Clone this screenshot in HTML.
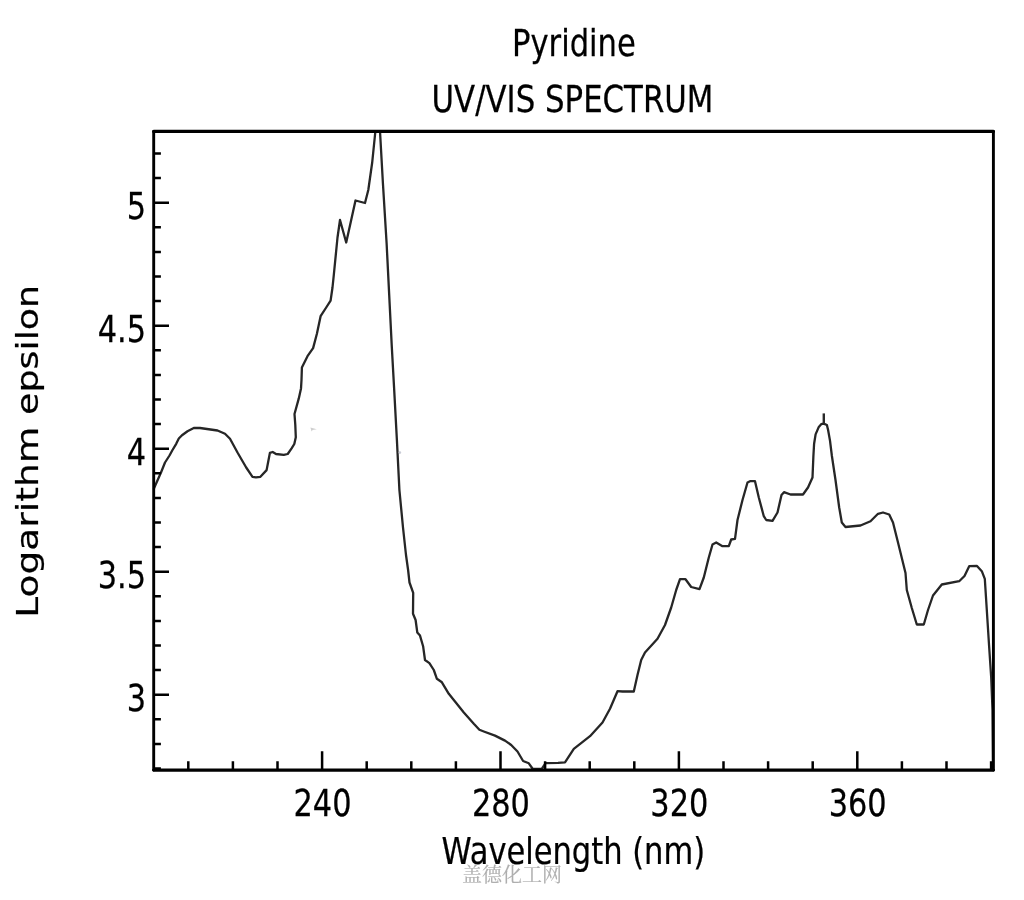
<!DOCTYPE html>
<html lang="en"><head><meta charset="utf-8"><title>Pyridine UV/VIS Spectrum</title>
<style>html,body{margin:0;padding:0;background:#fff}body{width:1024px;height:900px;overflow:hidden}svg{display:block}</style></head>
<body>
<svg width="1024" height="900" viewBox="0 0 1024 900">
<rect width="1024" height="900" fill="#fff"/>
<defs><clipPath id="c"><rect x="152.7" y="131.4" width="841.7" height="638.7"/></clipPath></defs>
<polyline clip-path="url(#c)" fill="none" stroke="#262626" stroke-width="2.3" stroke-linejoin="round" stroke-linecap="round" points="153.8,488.8 161.0,472.5 165.0,462.5 169.5,455.5 172.5,450.0 176.2,443.8 178.8,438.5 182.0,435.2 187.5,431.2 193.8,428.0 200.0,428.0 217.5,430.5 225.0,433.8 230.0,438.8 237.5,452.5 246.2,467.5 252.5,476.8 256.0,477.4 260.4,476.8 266.6,470.1 268.2,461.8 269.9,452.9 272.7,452.0 276.0,454.0 283.8,454.9 287.7,454.0 291.6,448.4 294.3,444.0 295.8,437.3 295.3,425.0 294.5,414.0 298.8,398.4 301.0,388.4 301.5,380.0 301.9,367.5 307.5,356.2 313.1,348.1 316.9,333.8 320.6,316.2 326.2,307.5 330.6,300.6 332.5,287.5 333.8,275.0 337.5,237.5 340.0,220.0 346.2,242.5 351.2,220.0 355.5,200.5 365.0,203.0 368.3,190.0 372.2,162.5 375.0,135.0 377.6,108.0 380.1,133.0 382.9,183.0 386.6,243.0 389.2,295.0 391.7,345.0 394.2,390.0 396.9,440.0 399.4,490.0 403.0,527.5 406.0,555.0 408.1,570.0 409.5,582.5 413.2,592.8 413.0,613.8 415.6,620.0 417.3,632.5 420.0,635.6 423.1,646.2 425.0,660.0 429.4,663.1 433.8,670.0 436.9,678.8 441.9,682.3 448.8,693.8 455.0,701.5 463.8,712.5 473.8,723.8 479.4,729.8 483.8,731.5 495.0,735.6 505.0,740.6 511.2,745.0 517.5,751.5 523.1,761.0 528.8,763.3 532.8,769.0 541.7,769.0 545.6,763.2 558.0,762.8 565.0,762.3 573.8,748.8 590.0,736.2 602.5,722.5 610.0,708.8 617.5,691.2 622.5,691.5 633.8,691.5 637.5,675.0 641.2,660.0 645.0,652.5 657.5,638.8 665.0,625.0 671.2,607.5 676.2,590.0 680.0,579.2 685.5,579.2 691.2,587.0 699.5,589.2 703.8,577.5 708.8,557.5 712.5,544.5 716.2,542.5 722.5,546.2 728.8,546.2 731.2,539.5 735.0,538.8 737.5,520.0 742.5,500.0 747.5,482.5 750.0,481.2 755.0,481.2 758.8,497.5 763.8,516.2 766.2,520.0 772.5,520.8 777.5,512.5 781.5,495.0 784.0,492.2 790.5,494.5 803.0,494.5 808.0,487.5 812.5,477.5 813.4,456.0 814.1,443.8 815.6,434.4 818.8,426.9 821.2,424.2 823.7,423.6 826.9,425.0 828.1,430.0 830.0,440.6 831.9,456.0 835.5,480.0 839.2,507.5 841.8,522.5 845.5,527.0 860.5,525.5 870.5,521.2 878.0,513.8 883.0,512.5 889.2,514.5 893.0,522.5 898.0,542.5 905.5,573.0 906.8,590.0 911.8,608.0 916.8,624.5 923.8,624.5 928.0,610.0 933.0,595.5 941.8,584.5 959.2,581.2 964.5,576.0 969.2,566.2 977.0,566.0 981.8,571.2 984.8,578.8 986.8,610.0 989.2,647.5 991.2,677.5 992.5,710.0 993.0,768.0"/>
<path d="M823.8 413.4V424.5" stroke="#2a2a2a" stroke-width="2.4" fill="none"/>
<path d="M310.4 427.6L316.8 429.2L312.6 430L311.6 431.4Z" fill="#cfcfcf"/><circle cx="399.9" cy="452.6" r="1.3" fill="#c9ccd6"/>
<path d="M153.7 131.4H993.4M153.7 770.1H993.4" stroke="#000" stroke-width="3.3" stroke-linecap="round" fill="none"/>
<path d="M153.7 131.4V770.1M993.4 131.4V770.1" stroke="#000" stroke-width="2.9" stroke-linecap="round" fill="none"/>
<path d="M153.7 768.5h7.2 M153.7 743.9h7.2 M153.7 719.3h7.2 M153.7 694.7h15.3 M153.7 670.1h7.2 M153.7 645.5h7.2 M153.7 620.9h7.2 M153.7 596.3h7.2 M153.7 571.7h15.3 M153.7 547.1h7.2 M153.7 522.5h7.2 M153.7 497.9h7.2 M153.7 473.3h7.2 M153.7 448.7h15.3 M153.7 424.1h7.2 M153.7 399.5h7.2 M153.7 374.9h7.2 M153.7 350.3h7.2 M153.7 325.7h15.3 M153.7 301.1h7.2 M153.7 276.5h7.2 M153.7 251.9h7.2 M153.7 227.3h7.2 M153.7 202.7h15.3 M153.7 178.1h7.2 M153.7 153.5h7.2 M188.3 770.1v-8.8 M232.9 770.1v-8.8 M277.5 770.1v-8.8 M322.1 770.1v-18.8 M366.7 770.1v-8.8 M411.3 770.1v-8.8 M455.9 770.1v-8.8 M500.5 770.1v-18.8 M545.1 770.1v-8.8 M589.7 770.1v-8.8 M634.3 770.1v-8.8 M678.9 770.1v-18.8 M723.5 770.1v-8.8 M768.1 770.1v-8.8 M812.7 770.1v-8.8 M857.3 770.1v-18.8 M901.9 770.1v-8.8 M946.5 770.1v-8.8 M991.1 770.1v-8.8" stroke="#000" stroke-width="2.5" fill="none"/>
<g font-family="'DejaVu Sans','Liberation Sans',sans-serif" font-size="37.2" fill="#000" stroke="#000" stroke-width="0.25">
<text transform="translate(146.0 218.8) scale(0.835 1)" text-anchor="end" font-size="36.4">5</text>
<text transform="translate(146.0 341.8) scale(0.835 1)" text-anchor="end" font-size="36.4">4.5</text>
<text transform="translate(146.0 464.8) scale(0.835 1)" text-anchor="end" font-size="36.4">4</text>
<text transform="translate(146.0 587.8) scale(0.835 1)" text-anchor="end" font-size="36.4">3.5</text>
<text transform="translate(146.0 710.8) scale(0.835 1)" text-anchor="end" font-size="36.4">3</text>
<text transform="translate(322.5 816.2) scale(0.835 1)" text-anchor="middle" font-size="36.4">240</text>
<text transform="translate(500.9 816.2) scale(0.835 1)" text-anchor="middle" font-size="36.4">280</text>
<text transform="translate(679.3 816.2) scale(0.835 1)" text-anchor="middle" font-size="36.4">320</text>
<text transform="translate(857.7 816.2) scale(0.835 1)" text-anchor="middle" font-size="36.4">360</text>
<text transform="translate(573.3 863.8) scale(0.834 1)" text-anchor="middle" font-size="36.6">Wavelength (nm)</text>
<text transform="translate(573.9 56.0) scale(0.831 1)" text-anchor="middle" font-size="36.8">Pyridine</text>
<text transform="translate(572.5 112.1) scale(0.844 1)" text-anchor="middle" font-size="36.5">UV/VIS SPECTRUM</text>
<text transform="translate(38.3 617.8) rotate(-90) scale(1.010 0.83)">Logarithm</text>
<text transform="translate(38.3 414.9) rotate(-90) scale(0.979 0.83)">epsilon</text>
</g>
<text x="512" y="881.6" text-anchor="middle" font-family="'Noto Serif CJK SC','Liberation Serif',serif" font-size="20" fill="#afafaf" stroke="#afafaf" stroke-width="0.15">盖德化工网</text>
</svg>
</body></html>
